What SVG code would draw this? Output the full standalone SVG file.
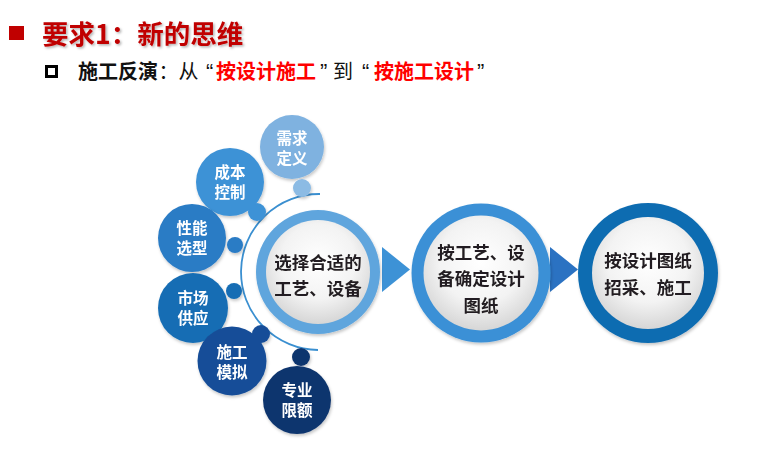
<svg xmlns="http://www.w3.org/2000/svg" width="760" height="462" viewBox="0 0 760 462">
<defs>
<style>
.cjk{font-family:"Noto Sans CJK SC","Noto Sans CJK JP",sans-serif;}
.title{font-size:26.5px;font-weight:bold;fill:#C00000;}
.sub{font-size:20px;font-weight:bold;fill:#111;}
.reg{font-weight:normal;}
.q{font-family:"Liberation Sans",Arial,sans-serif;font-weight:normal;font-size:22px;}
.red{fill:#FF0000;}
.btxt{font-size:15.5px;font-weight:bold;fill:#fff;text-anchor:middle;}
.ctxt{font-size:17.5px;font-weight:bold;fill:#231f20;text-anchor:middle;}
.arc{fill:none;stroke:#3a8fd0;stroke-width:1.8;}
</style>
<radialGradient id="gw" cx="50%" cy="40%" r="60%">
<stop offset="0" stop-color="#ffffff"/>
<stop offset="0.6" stop-color="#f3f3f3"/>
<stop offset="1" stop-color="#d6d6d6"/>
</radialGradient>
<filter id="sh" x="-20%" y="-20%" width="140%" height="140%">
<feDropShadow dx="1" dy="2" stdDeviation="1.8" flood-color="#000" flood-opacity="0.22"/>
</filter>
<filter id="tsh" x="-5%" y="-20%" width="110%" height="150%">
<feDropShadow dx="1.5" dy="1.5" stdDeviation="1" flood-color="#000" flood-opacity="0.3"/>
</filter>
</defs>
<rect width="760" height="462" fill="#ffffff"/>

<g id="header">
<rect x="9" y="26" width="15" height="14" fill="#C00000"/>
<text class="cjk title" x="42" y="44" filter="url(#tsh)">要求1：新的思维</text>
<rect x="46.5" y="66.5" width="10" height="10" fill="none" stroke="#000" stroke-width="3"/>
<text class="cjk sub" y="79"><tspan x="78">施工反演</tspan><tspan x="158.5" class="reg">：</tspan><tspan x="178.5" class="reg">从</tspan><tspan x="206" class="q">“</tspan><tspan x="216" class="red">按设计施工</tspan><tspan x="320" class="q">”</tspan><tspan x="333" class="reg">到</tspan><tspan x="362" class="q">“</tspan><tspan x="374" class="red">按施工设计</tspan><tspan x="477" class="q">”</tspan></text>
</g>

<g id="connectors">
<path class="arc" d="M 320 194 A 78 78 0 0 0 318 350"/>
<polygon points="382,247 410,269.5 382,292" fill="#3d92d6"/>
<polygon points="550,247 578,269.5 550,292" fill="#2b72c2"/>
</g>

<g id="b-xuqiu" filter="url(#sh)">
<circle cx="302" cy="188" r="9" fill="#8cbbe4"/>
<circle cx="292" cy="147" r="32" fill="#7fb2e0"/>
<text class="cjk btxt" x="292" y="143.5">需求</text>
<text class="cjk btxt" x="292" y="163.5">定义</text>
</g>
<g id="b-chengben" filter="url(#sh)">
<circle cx="257" cy="212" r="9" fill="#3e92d6"/>
<circle cx="230" cy="182" r="34" fill="#3e92d6"/>
<text class="cjk btxt" x="230" y="178">成本</text>
<text class="cjk btxt" x="230" y="198">控制</text>
</g>
<g id="b-xingneng" filter="url(#sh)">
<circle cx="235" cy="245" r="8" fill="#2a7bc5"/>
<circle cx="192" cy="238" r="34" fill="#2a7bc5"/>
<text class="cjk btxt" x="192" y="234">性能</text>
<text class="cjk btxt" x="192" y="254">选型</text>
</g>
<g id="b-shichang" filter="url(#sh)">
<circle cx="234" cy="291" r="8" fill="#166db4"/>
<circle cx="193" cy="308" r="35" fill="#166db4"/>
<text class="cjk btxt" x="193" y="304">市场</text>
<text class="cjk btxt" x="193" y="324">供应</text>
</g>
<g id="b-shigong" filter="url(#sh)">
<circle cx="261" cy="334" r="9" fill="#174e98"/>
<circle cx="232" cy="361" r="34.5" fill="#174e98"/>
<text class="cjk btxt" x="232" y="358">施工</text>
<text class="cjk btxt" x="232" y="378">模拟</text>
</g>
<g id="b-zhuanye" filter="url(#sh)">
<circle cx="301" cy="357" r="9" fill="#11366e"/>
<circle cx="297" cy="400" r="34" fill="#11366e"/>
<text class="cjk btxt" x="297" y="396">专业</text>
<text class="cjk btxt" x="297" y="416">限额</text>
</g>

<g id="c1" filter="url(#sh)">
<circle cx="318" cy="272" r="62" fill="#5fa5dd"/>
<circle cx="318" cy="272" r="52" fill="url(#gw)"/>
<text class="cjk ctxt" x="318" y="269">选择合适的</text>
<text class="cjk ctxt" x="318" y="295">工艺、设备</text>
</g>
<g id="c2" filter="url(#sh)">
<circle cx="481" cy="273" r="69.5" fill="#3a90d6"/>
<circle cx="481" cy="273" r="57.5" fill="url(#gw)"/>
<text class="cjk ctxt" x="481" y="259">按工艺、设</text>
<text class="cjk ctxt" x="481" y="285">备确定设计</text>
<text class="cjk ctxt" x="481" y="312">图纸</text>
</g>
<g id="c3" filter="url(#sh)">
<circle cx="648" cy="273" r="70" fill="#0f6cb1"/>
<circle cx="648" cy="273" r="56" fill="url(#gw)"/>
<text class="cjk ctxt" x="648" y="267">按设计图纸</text>
<text class="cjk ctxt" x="648" y="294">招采、施工</text>
</g>
</svg>
